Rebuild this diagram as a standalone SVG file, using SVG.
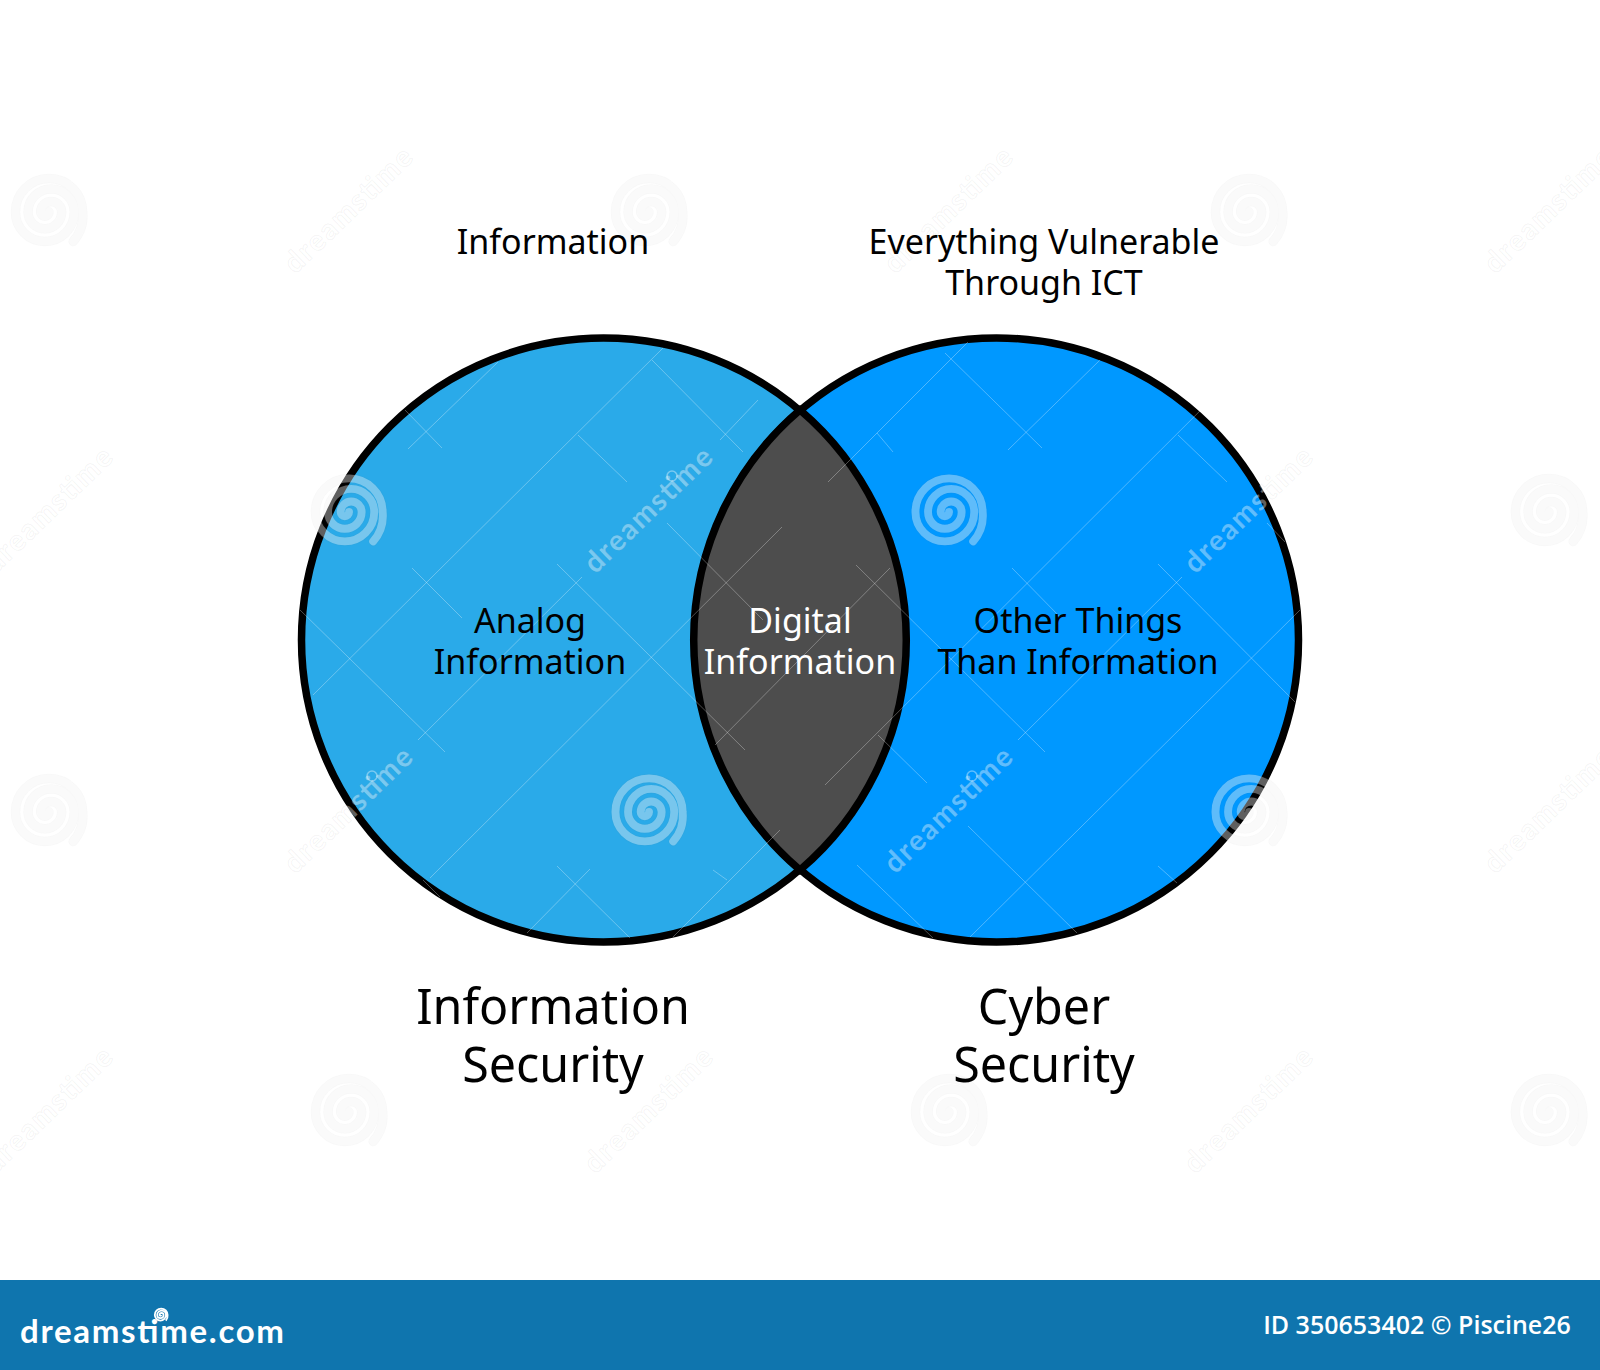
<svg xmlns="http://www.w3.org/2000/svg" width="1600" height="1370" viewBox="0 0 1600 1370">
<style>
text{font-family:"Noto Sans","Open Sans",sans-serif;text-anchor:middle;fill:#000}
.m{font-size:34px}
.l{font-size:48.4px}
.c{stroke:#000;stroke-width:7.5}
.wt{font-family:Lato,"Noto Sans",sans-serif;font-size:29px;font-weight:700;fill:#fff;fill-opacity:.38;stroke:#777;stroke-opacity:.08;stroke-width:1}
.sg{fill:none;stroke:#777;stroke-opacity:.05;stroke-width:9;stroke-linecap:round}
.sw{fill:none;stroke:#fff;stroke-opacity:.36;stroke-width:7.5;stroke-linecap:round}
.wl{stroke:#fff;stroke-opacity:.3;stroke-width:1;fill:none}
</style>
<defs>
<path id="sp" d="M1 0A4 4 0 0 1 -7 0A10 10 0 0 1 13 0A16 16 0 0 1 -19 0A22 22 0 0 1 25 0A28 28 0 0 1 -31 0A32 32 0 0 1 33 0A37 37 0 0 1 24 28"/>
<g id="spiral" transform="scale(1.05)"><use href="#sp" class="sg"/><use href="#sp" class="sw"/></g>
<g id="wm"><text class="wt" transform="rotate(-44)" textLength="166" lengthAdjust="spacing">dreamstime</text>
<circle cx="17" cy="-41" r="5" fill="none" stroke="#fff" stroke-opacity=".38" stroke-width="1.5"/></g>
</defs>
<rect width="1600" height="1370" fill="#fff"/>
<g id="circle-left"><circle class="c" cx="603.5" cy="640" r="302" fill="#2aaae9"/></g>
<g id="circle-right"><circle class="c" cx="996.5" cy="640" r="302" fill="#0098ff"/></g>
<g id="intersection"><path class="c" d="M800 410A302 302 0 0 1 800 870A302 302 0 0 1 800 410Z" fill="#4d4d4d"/></g>
<path id="watermark-lines" class="wl" d="M408 449L498 362M405 410L442 448M313 695L663 348M652 360L743 452M578 435L627 482M412 568L462 618M667 523L763 620M557 564L745 750M582 577L418 740M300 610L445 752M430 878L782 527M527 933L590 869M557 866L630 938M713 870L727 880M673 937L780 830M423 880L440 897M720 440L758 400M715 745L890 568M856 565L1045 752M825 785L1263 348M878 735L927 783M828 482L968 342M877 433L893 452M857 865L933 938M945 353L1042 448M1008 450L1100 360M1178 435L1227 482M1012 568L1060 617M1158 564L1295 702M1018 740L1182 577M1267 523L1285 542M970 937L1300 610M968 826L1077 933M1158 866L1177 883"/>
<g id="watermark-spirals">
<use href="#spiral" x="48" y="212"/><use href="#spiral" x="648" y="212"/><use href="#spiral" x="1248" y="212"/>
<use href="#spiral" x="348" y="512"/><use href="#spiral" x="948" y="512"/><use href="#spiral" x="1548" y="512"/>
<use href="#spiral" x="48" y="812"/><use href="#spiral" x="648" y="812"/><use href="#spiral" x="1248" y="812"/>
<use href="#spiral" x="348" y="1112"/><use href="#spiral" x="948" y="1112"/><use href="#spiral" x="1548" y="1112"/>
</g>
<g id="watermark-text">
<use href="#wm" x="355" y="217"/><use href="#wm" x="955" y="217"/><use href="#wm" x="1555" y="217"/>
<use href="#wm" x="55" y="517"/><use href="#wm" x="655" y="517"/><use href="#wm" x="1255" y="517"/>
<use href="#wm" x="355" y="817"/><use href="#wm" x="955" y="817"/><use href="#wm" x="1555" y="817"/>
<use href="#wm" x="55" y="1117"/><use href="#wm" x="655" y="1117"/><use href="#wm" x="1255" y="1117"/>
</g>
<g id="labels">
<text class="m" x="553" y="254">Information</text>
<text class="m" x="1044" y="254">Everything Vulnerable</text>
<text class="m" x="1044" y="295">Through ICT</text>
<text class="m" x="530" y="633">Analog</text>
<text class="m" x="530" y="674">Information</text>
<text class="m" x="800" y="633" style="fill:#fff">Digital</text>
<text class="m" x="800" y="674" style="fill:#fff">Information</text>
<text class="m" x="1078" y="633">Other Things</text>
<text class="m" x="1078" y="674">Than Information</text>
<text class="l" x="553" y="1024">Information</text>
<text class="l" x="553" y="1082">Security</text>
<text class="l" x="1044" y="1024">Cyber</text>
<text class="l" x="1044" y="1082">Security</text>
</g>
<g id="footer">
<rect y="1280" width="1600" height="90" fill="#0f75ae"/>
<text x="1417" y="1334" style="fill:#fff;font-family:'Open Sans',sans-serif;font-weight:600;font-size:25px">ID 350653402 © Piscine26</text>
<text x="152" y="1343" style="fill:#fff;font-family:Lato,sans-serif;font-size:33px;font-weight:700" textLength="264" lengthAdjust="spacing">dreamstime.com</text>
<use href="#sp" transform="translate(161 1315) scale(.2)" style="fill:none;stroke:#fff;stroke-width:9"/>
</g>
</svg>
